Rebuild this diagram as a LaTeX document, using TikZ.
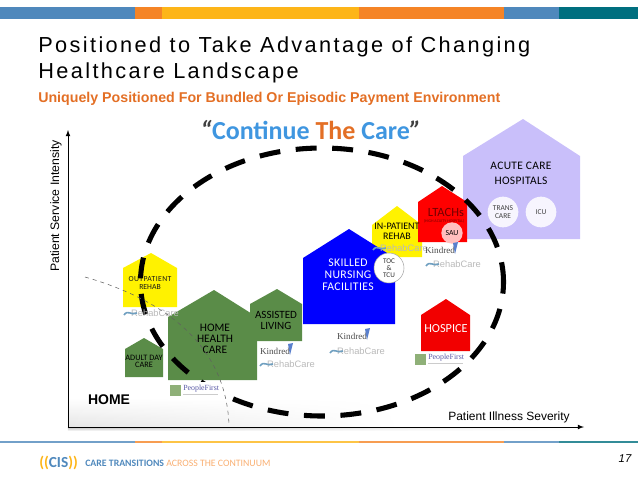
\documentclass[tikz,border=0pt]{standalone}
\usepackage{fontspec}
\setmainfont{Liberation Sans}
\newfontfamily\titlefont[LetterSpace=11]{Liberation Sans}
\newfontfamily\boxfont{Carlito}
\newfontfamily\logofont{Liberation Serif}
\usetikzlibrary{fadings}
\definecolor{barblue}{HTML}{4F88BC}
\definecolor{barorange}{HTML}{F58426}
\definecolor{baryellow}{HTML}{FDB518}
\definecolor{barteal}{HTML}{006F7F}
\definecolor{subcolor}{HTML}{E36F25}
\definecolor{carecolor}{HTML}{3F96E0}
\definecolor{acutecolor}{HTML}{C9BFFA}
\definecolor{homecolor}{HTML}{5A8C48}
\definecolor{swoosh}{HTML}{6F9FC0}
\definecolor{sage}{HTML}{8FB078}
\tikzset{
  boxtext/.style={font=\boxfont\fontsize{#1}{#1}\selectfont,align=center,inner sep=0pt},
  boxtext/.default=7.5,
  unit/.style={circle,minimum size=#1,inner sep=0pt},
  rehab/.style={font=\fontsize{7}{7}\selectfont,text=gray!55,inner sep=0pt},
  kindred/.style={font=\logofont\fontsize{6.8}{7}\selectfont,text=black!70,inner sep=0pt}
}
\begin{document}
\begin{tikzpicture}[x=0.75pt,y=-0.75pt]
  \useasboundingbox (0,0) rectangle (638,493);
  % top bar
  \fill[barblue] (0,7) rectangle (135,19);
  \fill[barorange] (135,7) rectangle (162,19);
  \fill[baryellow] (162,7) rectangle (359,19);
  \fill[barorange] (359,7) rectangle (504,19);
  \fill[barblue] (504,7) rectangle (559,19);
  \fill[barteal] (559,7) rectangle (638,19);
  % titles
  \node[anchor=base west,inner sep=0pt,font=\titlefont\fontsize{16.3}{16.3}\selectfont] (title1) at (38,52) {Positioned to Take Advantage of Changing};
  \node[anchor=base west,inner sep=0pt,font=\titlefont\fontsize{16.3}{16.3}\selectfont] (title2) at (38,78) {Healthcare Landscape};
  \node[anchor=base west,inner sep=0pt,font=\bfseries\fontsize{10.66}{10.66}\selectfont,text=subcolor] (subtitle) at (38,102) {Uniquely Positioned For Bundled Or Episodic Payment Environment};
  \node[inner sep=0pt,font=\boxfont\bfseries\fontsize{19.5}{19.5}\selectfont] (care) at (311,130) {\textcolor{black!75}{\itshape “}\textcolor{carecolor}{Continue} \textcolor{subcolor}{The} \textcolor{carecolor}{Care}\textcolor{black!75}{\itshape ”}};
  % axes
  \shade[top color=white,bottom color=gray!20,path fading=east] (68,398) rectangle (400,427);
  \shade[top color=gray!50,bottom color=white,path fading=east] (68,427) rectangle (584,431);
  \coordinate (origin) at (68,427);
  \coordinate (ytop) at (68,130);
  \coordinate (xend) at (584,427);
  \draw[-latex,semithick] (origin) -- (ytop);
  \draw[-latex,semithick] (origin) -- (xend);
  \node[rotate=90,inner sep=0pt,font=\fontsize{9.2}{9.2}\selectfont] (ylabel) at (56,206) {Patient Service Intensity};
  \node[inner sep=0pt,font=\fontsize{9}{9}\selectfont] (xlabel) at (509,417) {Patient Illness Severity};
  \node[inner sep=0pt,font=\bfseries\fontsize{10.5}{10.5}\selectfont] (home) at (109,400) {HOME};
  % houses
  \fill[acutecolor] (463,239) -- (463,156) -- (523,119) -- (580,156) -- (580,239) -- cycle;
  \fill[yellow] (372,257) -- (372,225) -- (397,206) -- (422,225) -- (422,257) -- cycle;
  \fill[red] (418,242) -- (418,202) -- (442,186) -- (467,202) -- (467,242) -- cycle;
  \fill[blue] (303,324) -- (303,258) -- (349,229) -- (395,258) -- (395,324) -- cycle;
  \fill[red!95!black] (421,351) -- (421,315) -- (446,299) -- (470,315) -- (470,351) -- cycle;
  \fill[yellow] (123,307) -- (123,268) -- (151,253) -- (177,268) -- (177,307) -- cycle;
  \fill[homecolor] (168,380) -- (168,317) -- (214,290) -- (257,317) -- (257,380) -- cycle;
  \fill[homecolor] (250,341) -- (250,304) -- (277,289) -- (302,304) -- (302,341) -- cycle;
  \fill[homecolor] (125,377) -- (125,349) -- (144,338) -- (163,349) -- (163,377) -- cycle;
  % units inside the houses
  \node[unit=23pt,fill=white!85!acutecolor] (trans) at (503,212) {};
  \node[unit=23pt,fill=white!85!acutecolor] (icu) at (541,212) {};
  \node[unit=16pt,fill=red!25] (sau) at (452,233) {};
  \node[unit=22.5pt,fill=white,draw=gray!70] (toc) at (389,268) {};
  % labels
  \node[boxtext=8.6] (acute) at (521,173.5) {\addfontfeature{LetterSpace=3}ACUTE CARE\\[2.5pt]\addfontfeature{LetterSpace=3}HOSPITALS};
  \node[boxtext=5.6,text=black!75] at (trans) {TRANS\\[1pt]CARE};
  \node[boxtext=5.6,text=black!75] at (icu) {ICU};
  \node[boxtext=5.8] at (sau) {SAU};
  \node[boxtext=5.4,text=black!80] at (toc) {TOC\\[0pt]\&\\[0pt]TCU};
  \node[boxtext=9.4,text=red!45!black] (ltach) at (446,212) {LTACHs};
  \node[boxtext=3,text=red!45!black] (ltachsub) at (444,221) {(HIGH ACUITY HOSPITAL)};
  \node[boxtext=7.5] (inpatient) at (397,231) {IN-PATIENT\\[0pt]REHAB};
  \node[boxtext=8.8,text=white] (skilled) at (348,275) {\addfontfeature{LetterSpace=3}SKILLED\\[0.2pt]\addfontfeature{LetterSpace=3}NURSING\\[0.2pt]\addfontfeature{LetterSpace=3}FACILITIES};
  \node[boxtext=9.2,text=white] (hospice) at (446,329) {HOSPICE};
  \node[boxtext=5.8,text=black!90] (outpatient) at (150,283) {\addfontfeature{LetterSpace=5}OUTPATIENT\\[0.2pt]REHAB};
  \node[boxtext=8.6] (homehealth) at (215,339) {HOME\\[-0.3pt]HEALTH\\[-0.3pt]CARE};
  \node[boxtext=8.3] (assisted) at (276,320) {ASSISTED\\[0pt]LIVING};
  \node[boxtext=6.2] (adultday) at (144,361.5) {ADULT DAY\\[-0.4pt]CARE};
  % the continuum
  \node[draw=none,minimum width=0pt] (cx) at (322,282) {};
  \draw[line width=3.8pt,dash pattern=on 15.7pt off 11.7pt,dash phase=7pt] (cx) ellipse (181.5 and 134);
  % logos
  \foreach \i/\lx/\ly in {a/148/313, b/284/364, c/354/351, d/450/264, e/397/248} {
    \node[rehab] (rehab\i) at (\lx+7,\ly) {RehabCare};
    \draw[swoosh,line width=1.2pt] (\lx-24,\ly+2) .. controls (\lx-20,\ly-4) and (\lx-17,\ly+3) .. (\lx-11,\ly);
  }
  \foreach \i/\lx/\ly in {a/352/336, b/275/351, c/440/250} {
    \node[kindred] (kindred\i) at (\lx,\ly) {Kindred};
    \fill[swoosh!80!blue] (\lx+13,\ly-7) -- (\lx+18,\ly-8) -- (\lx+15,\ly+4) -- cycle;
  }
  \fill[white] (168,382) rectangle (222,400);
  \foreach \i/\lx/\ly in {a/170/385, b/415/354} {
    \fill[sage] (\lx,\ly) rectangle (\lx+11,\ly+11);
    \node[anchor=west,inner sep=0pt,font=\logofont\fontsize{5.9}{6}\selectfont,text=gray!70!blue] (people\i) at (\lx+13,\ly+4) {PeopleFirst};
    \draw[gray!40,line width=0.6pt] (\lx+13,\ly+9.5) -- (\lx+48,\ly+9.5);
  }
  % home boundary
  \coordinate (bstart) at (85,277);
  \coordinate (bend) at (229,425);
  \draw[gray!75!black,dashed,thin] (bstart) .. controls (165,300) and (226,345) .. (bend);
  % footer
  \fill[barblue!80] (0,441) rectangle (135,443);
  \fill[barorange!80] (135,441) rectangle (162,443);
  \fill[baryellow!80] (162,441) rectangle (359,443);
  \fill[barorange!80] (359,441) rectangle (504,443);
  \fill[barblue!80] (504,441) rectangle (559,443);
  \fill[barteal!80] (559,441) rectangle (638,443);
  \node[anchor=west,inner sep=0pt,font=\boxfont\bfseries\fontsize{11.5}{11.5}\selectfont] (cis) at (39,463) {\textcolor{baryellow}{((}\textcolor{barblue}{CIS}\textcolor{baryellow}{))}};
  \node[anchor=west,inner sep=0pt,font=\boxfont\fontsize{7.35}{7.35}\selectfont] (tag) at (85,463) {\textcolor{barblue}{\bfseries CARE TRANSITIONS} \textcolor{barorange!65}{ACROSS THE CONTINUUM}};
  \node[inner sep=0pt,font=\itshape\fontsize{8.5}{8.5}\selectfont] (page) at (625,459) {17};
\end{tikzpicture}
\end{document}
